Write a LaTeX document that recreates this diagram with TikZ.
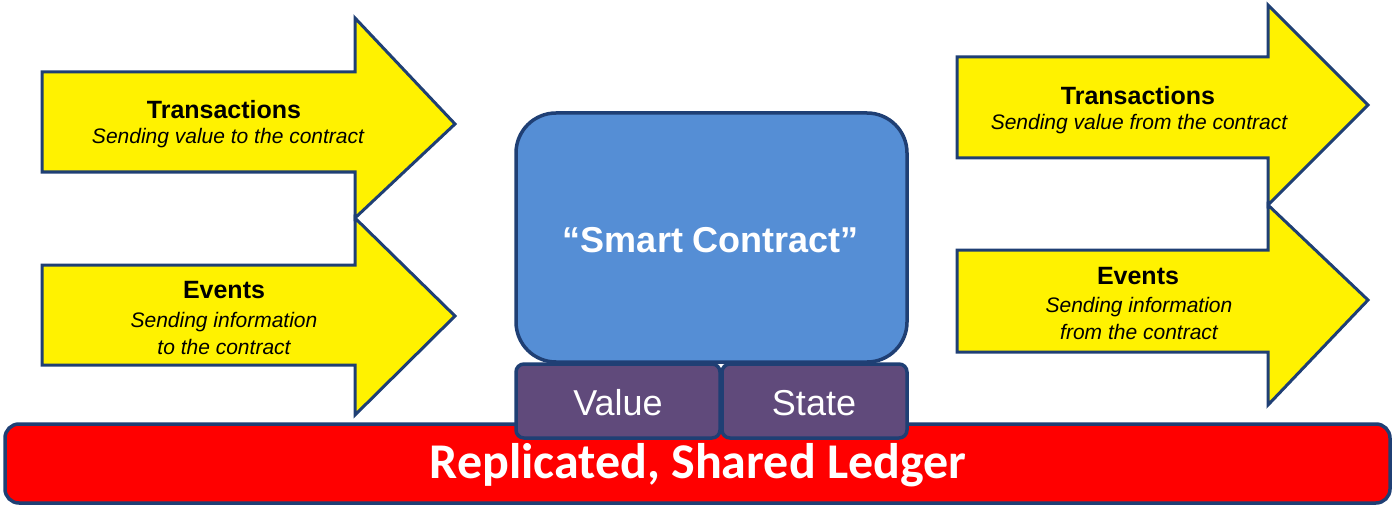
\documentclass[tikz,border=0pt]{standalone}
\usepackage{fontspec}
\setmainfont{Liberation Sans}
\newfontfamily\carlito{Carlito}
\begin{document}
\begin{tikzpicture}[x=1pt,y=-1pt,
  arr/.style={fill=yellow,draw=black!30!blue!60!black,line width=3pt,line join=miter},
  ttl/.style={font=\bfseries\fontsize{25}{28}\selectfont,align=center},
  sub/.style={font=\itshape\fontsize{21}{27}\selectfont,align=center},
  box/.style={draw=black!30!blue!60!black,line width=3.5pt}]
\useasboundingbox (0,0) rectangle (1395,508);
\definecolor{edge}{HTML}{1F3F74}
\tikzset{arr/.append style={draw=edge},box/.append style={draw=edge}}
% left arrows
\draw[arr] (42,72)--(355,72)--(355,18)--(455,124)--(355,218)--(355,172)--(42,172)--cycle;
\draw[arr] (42,265)--(355,265)--(355,218)--(455,316)--(355,415)--(355,365)--(42,365)--cycle;
% right arrows
\draw[arr] (957,57)--(1268,57)--(1268,5)--(1368,105)--(1268,205)--(1268,158)--(957,158)--cycle;
\draw[arr] (957,250)--(1268,250)--(1268,205)--(1368,300)--(1268,405)--(1268,352)--(957,352)--cycle;
\node[ttl] (t1) at (224,110) {Transactions};
\node[sub] (s1) at (228,138) {Sending value to the contract};
\node[ttl] (e1) at (224,290) {Events};
\node[sub] (s2) at (224,333) {Sending information\\to the contract};
\node[ttl] (t2) at (1138,96) {Transactions};
\node[sub] (s3) at (1139,124) {Sending value from the contract};
\node[ttl] (e2) at (1138,276) {Events};
\node[sub] (s4) at (1139,318) {Sending information\\from the contract};
% ledger
\draw[box,fill=red,rounded corners=14pt] (5,424) rectangle (1390,503);
\node[font=\carlito\bfseries\fontsize{50}{56}\selectfont,text=white] (led) at (698,465) {Replicated, Shared Ledger};
% contract
\draw[box,fill={rgb,255:red,85;green,142;blue,213},rounded corners=40pt] (516,113) rectangle (907,362);
\node[font=\bfseries\fontsize{36}{40}\selectfont,text=white] (sc) at (711,240) {“Smart Contract”};
\definecolor{purp}{HTML}{604A7B}
\draw[box,fill=purp,rounded corners=8pt] (516,364) rectangle (720,438);
\draw[box,fill=purp,rounded corners=8pt] (722,364) rectangle (907,438);
\node[font=\fontsize{36}{40}\selectfont,text=white] (v) at (618,403) {Value};
\node[font=\fontsize{36}{40}\selectfont,text=white] (st) at (814,403) {State};
\end{tikzpicture}
\end{document}
